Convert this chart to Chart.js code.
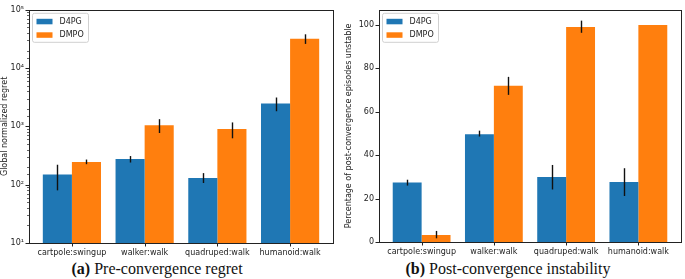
<!DOCTYPE html>
<html>
<head>
<meta charset="utf-8">
<script src="https://cdn.jsdelivr.net/npm/chart.js@4/dist/chart.umd.min.js"></script>
<style>
  body { margin: 0; background: #fff; width: 685px; height: 279px; position: relative; overflow: hidden; }
  canvas { position: absolute; top: 0; }
  #regret { left: 0; }
  #instab { left: 340px; }
  .cap { position: absolute; top: 260px; font-family: "Liberation Serif", "DejaVu Serif", serif; font-size: 16px; color: #111; white-space: nowrap; }
</style>
</head>
<body>
<canvas id="regret" width="340" height="258"></canvas>
<canvas id="instab" width="345" height="258"></canvas>
<div class="cap" id="capA"><b>(a)</b> Pre-convergence regret</div>
<div class="cap" id="capB"><b>(b)</b> Post-convergence instability</div>
<script>
var categories = ["cartpole:swingup", "walker:walk", "quadruped:walk", "humanoid:walk"];
var seriesNames = ["D4PG", "DMPO"];
var barColors = ["#1f77b4", "#ff7f0e"];

// (a) global normalized regret, log scale
var regretD4PG = [150, 275, 130, 2480];
var regretD4PGLow = [80, 240, 107, 1820];
var regretD4PGHigh = [220, 310, 158, 3130];
var regretDMPO = [245, 1050, 900, 31800];
var regretDMPOLow = [225, 770, 625, 26000];
var regretDMPOHigh = [270, 1330, 1170, 38000];

// (b) percentage of post-convergence episodes unstable
var instabD4PG = [27.4, 49.6, 29.9, 27.7];
var instabD4PGLow = [26.0, 48.6, 24.2, 21.2];
var instabD4PGHigh = [28.7, 51.3, 35.5, 34.0];
var instabDMPO = [3.2, 72.0, 99.1, 100];
var instabDMPOLow = [1.7, 67.8, 96.4, 100];
var instabDMPOHigh = [5.1, 76.1, 102, 100];

var instabTicks = [0, 20, 40, 60, 80, 100];

Chart.defaults.font.family = "'DejaVu Sans', sans-serif";
Chart.defaults.font.size = 8;
Chart.defaults.color = "#222";

var sup = { "0": "\u2070", "1": "\u00b9", "2": "\u00b2", "3": "\u00b3", "4": "\u2074", "5": "\u2075", "6": "\u2076", "7": "\u2077", "8": "\u2078", "9": "\u2079" };

function toPoints(vals) {
  return vals.map(function (v, i) { return { x: i, y: v }; });
}

// error bars drawn at each bar's centre
var errorBars = {
  id: "errorBars",
  afterDatasetsDraw: function (chart, args, opts) {
    var ctx = chart.ctx;
    var y = chart.scales.y;
    ctx.save();
    ctx.strokeStyle = "#111";
    ctx.lineWidth = 1.4;
    chart.data.datasets.forEach(function (ds, i) {
      var meta = chart.getDatasetMeta(i);
      meta.data.forEach(function (bar, j) {
        var lo = ds.errLow[j], hi = ds.errHigh[j];
        if (lo === hi) return;
        ctx.beginPath();
        ctx.moveTo(Math.round(bar.x) + 0.5, y.getPixelForValue(lo));
        ctx.lineTo(Math.round(bar.x) + 0.5, y.getPixelForValue(hi));
        ctx.stroke();
      });
    });
    ctx.restore();
  }
};

// axes box, tick marks and legend in matplotlib style
var frame = {
  id: "frame",
  afterDraw: function (chart) {
    var ctx = chart.ctx;
    var a = chart.chartArea;
    var y = chart.scales.y;
    var x = chart.scales.x;
    ctx.save();
    ctx.strokeStyle = "#222";
    ctx.lineWidth = 1;
    ctx.strokeRect(Math.round(a.left) + 0.5, Math.round(a.top) + 0.5, Math.round(a.right - a.left), Math.round(a.bottom - a.top));

    y.ticks.forEach(function (t) {
      var p = Math.round(y.getPixelForValue(t.value)) + 0.5;
      var major = y.type !== "logarithmic" || Math.abs(Math.log10(t.value) - Math.round(Math.log10(t.value))) < 1e-9;
      var len = major ? 3.5 : 2;
      ctx.lineWidth = major ? 1 : 0.7;
      ctx.beginPath();
      ctx.moveTo(a.left, p);
      ctx.lineTo(a.left - len, p);
      ctx.stroke();
    });
    ctx.lineWidth = 1;
    x.ticks.forEach(function (t) {
      var p = Math.round(x.getPixelForValue(t.value)) + 0.5;
      ctx.beginPath();
      ctx.moveTo(p, a.bottom);
      ctx.lineTo(p, a.bottom + 3.5);
      ctx.stroke();
    });

    // legend
    var bx = a.left + 3.5, by = a.top + 3.5, bw = 56, bh = 29;
    ctx.fillStyle = "rgba(255,255,255,0.8)";
    ctx.strokeStyle = "#d0d0d0";
    ctx.lineWidth = 1;
    ctx.beginPath();
    ctx.roundRect(bx, by, bw, bh, 2);
    ctx.fill();
    ctx.stroke();
    ctx.font = "8px 'DejaVu Sans'";
    ctx.textBaseline = "middle";
    chart.data.datasets.forEach(function (ds, i) {
      var ry = by + 8 + i * 13.5;
      ctx.fillStyle = ds.backgroundColor;
      ctx.fillRect(bx + 4, ry - 2.5, 16, 5.5);
      ctx.fillStyle = "#222";
      ctx.fillText(ds.label, bx + 27, ry + 0.5);
    });
    ctx.restore();
  }
};

function xAxis(h) {
  return {
    type: "linear",
    min: -0.59,
    max: 3.59,
    offset: false,
    afterBuildTicks: function (s) { s.ticks = categories.map(function (c, i) { return { value: i }; }); },
    afterFit: function (s) { s.height = h; },
    grid: { display: false, drawTicks: false, offset: false },
    border: { display: false },
    ticks: {
      autoSkip: false,
      maxRotation: 0,
      padding: 5,
      callback: function (v) { return categories[v]; }
    }
  };
}

var regretData = {
  datasets: [
    { label: seriesNames[0], data: toPoints(regretD4PG), errLow: regretD4PGLow, errHigh: regretD4PGHigh, backgroundColor: barColors[0] },
    { label: seriesNames[1], data: toPoints(regretDMPO), errLow: regretDMPOLow, errHigh: regretDMPOHigh, backgroundColor: barColors[1] }
  ]
};

var regretOptions = {
  responsive: false,
  animation: false,
  layout: { padding: { left: 0, right: 7, top: 6, bottom: 0 } },
  datasets: { bar: { categoryPercentage: 0.8, barPercentage: 1.0 } },
  plugins: { legend: { display: false }, tooltip: { enabled: false } },
  scales: {
    x: xAxis(15),
    y: {
      type: "logarithmic",
      min: 10,
      max: 100000,
      afterFit: function (s) { s.width = 29; },
      grid: { display: false, drawTicks: false },
      border: { display: false },
      title: { display: true, text: "Global normalized regret", padding: 0, font: { size: 8 } },
      ticks: {
        autoSkip: false,
        padding: 5,
        callback: function (v) {
          var e = Math.log10(v);
          if (Math.abs(e - Math.round(e)) > 1e-9) return "";
          return "10" + String(Math.round(e)).split("").map(function (d) { return sup[d]; }).join("");
        }
      }
    }
  }
};

var instabData = {
  datasets: [
    { label: seriesNames[0], data: toPoints(instabD4PG), errLow: instabD4PGLow, errHigh: instabD4PGHigh, backgroundColor: barColors[0] },
    { label: seriesNames[1], data: toPoints(instabDMPO), errLow: instabDMPOLow, errHigh: instabDMPOHigh, backgroundColor: barColors[1] }
  ]
};

var instabOptions = {
  responsive: false,
  animation: false,
  layout: { padding: { left: 0, right: 4, top: 4, bottom: 0 } },
  datasets: { bar: { categoryPercentage: 0.8, barPercentage: 1.0 } },
  plugins: { legend: { display: false }, tooltip: { enabled: false } },
  scales: {
    x: xAxis(16),
    y: {
      type: "linear",
      min: 0,
      max: 107,
      afterBuildTicks: function (s) { s.ticks = instabTicks.map(function (v) { return { value: v }; }); },
      afterFit: function (s) { s.width = 39; },
      grid: { display: false, drawTicks: false },
      border: { display: false },
      title: { display: true, text: "Percentage of post-convergence episodes unstable", padding: { top: 4, bottom: 0 }, font: { size: 8 } },
      ticks: { autoSkip: false, padding: 5 }
    }
  }
};

new Chart(document.getElementById("regret").getContext("2d"), {
  type: "bar",
  data: regretData,
  options: regretOptions,
  plugins: [errorBars, frame]
});

new Chart(document.getElementById("instab").getContext("2d"), {
  type: "bar",
  data: instabData,
  options: instabOptions,
  plugins: [errorBars, frame]
});

// centre captions
var capA = document.getElementById("capA");
capA.style.left = (157 - capA.offsetWidth / 2) + "px";
var capB = document.getElementById("capB");
capB.style.left = (508 - capB.offsetWidth / 2) + "px";
</script>
</body>
</html>
